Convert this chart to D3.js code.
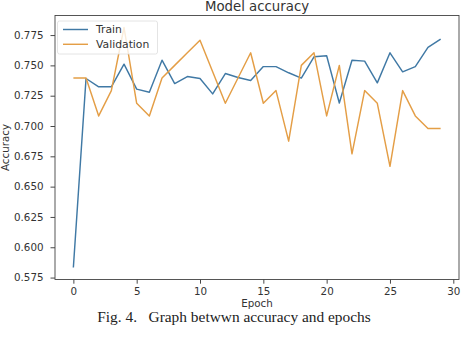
<!DOCTYPE html>
<html><head><meta charset="utf-8">
<script src="https://cdn.jsdelivr.net/npm/d3@7"></script>
<style>body{margin:0;background:#fff;} svg{display:block;}</style>
</head><body>
<script>
const epochs = d3.range(0, 30);
const trainAcc = [0.5833,0.7392,0.7323,0.7323,0.7510,0.7304,0.7279,0.7543,0.7350,0.7408,
                  0.7392,0.7265,0.7433,0.7400,0.7376,0.7490,0.7490,0.7439,0.7395,0.7571,
                  0.7579,0.7190,0.7543,0.7535,0.7356,0.7604,0.7447,0.7490,0.7648,0.7717];
const valAcc = [0.7396,0.7396,0.7083,0.7292,0.78125,0.71875,0.7083,0.7396,0.7500,0.7604,
                0.7708,0.7448,0.71875,0.7396,0.7604,0.71875,0.7292,0.6875,0.7500,0.7604,
                0.7083,0.7500,0.6771,0.7292,0.71875,0.6667,0.7292,0.7083,0.6979,0.6979];
const xTicks = [0,5,10,15,20,25,30];
const yTicks = [0.575,0.600,0.625,0.650,0.675,0.700,0.725,0.750,0.775];
const seriesNames = ["Train","Validation"];
const colors = ["#4079a5","#e49e46"];
const title = "Model accuracy";
const xLabel = "Epoch", yLabel = "Accuracy";
const caption = "Fig. 4.   Graph betwwn accuracy and epochs";

const W = 474, H = 360;
const L = 55, R = 459, T = 15.5, B = 279.5;
const svg = d3.select("body").append("svg").attr("width", W).attr("height", H);
const font = "DejaVu Sans, sans-serif";
const txt = "#333";
const fs = "10.3px";

const allVals = trainAcc.concat(valAcc);
const ymin = d3.min(allVals), ymax = d3.max(allVals), ypad = (ymax - ymin) * 0.05;
const x = d3.scaleLinear().domain([-1.45, 30.45]).range([L, R]);
const y = d3.scaleLinear().domain([ymin - ypad, ymax + ypad]).range([B, T]);

const xAxis = svg.append("g").attr("transform", `translate(0,${B})`)
  .call(d3.axisBottom(x).tickValues(xTicks).tickFormat(d3.format("d")).tickSize(4.2).tickPadding(3.5));
const yAxis = svg.append("g").attr("transform", `translate(${L},0)`)
  .call(d3.axisLeft(y).tickValues(yTicks).tickFormat(d3.format(".3f")).tickSize(4.5).tickPadding(7));
[xAxis, yAxis].forEach(g => {
  g.select(".domain").remove();
  g.selectAll("line").attr("stroke", txt).attr("stroke-width", 0.9);
  g.selectAll("text").attr("fill", txt).style("font-family", font).style("font-size", fs);
});

// spines
svg.append("rect").attr("x", L).attr("y", T).attr("width", R - L).attr("height", B - T)
  .attr("fill", "none").attr("stroke", "#444").attr("stroke-width", 0.9);

const line = d3.line().x((d, i) => x(epochs[i])).y(d => y(d));
[trainAcc, valAcc].forEach((s, k) => {
  svg.append("path").datum(s).attr("d", line).attr("fill", "none")
    .attr("stroke", colors[k]).attr("stroke-width", 1.45).attr("stroke-linejoin", "round");
});

// legend
const lg = svg.append("g");
lg.append("rect").attr("x", 57.5).attr("y", 21).attr("width", 100).attr("height", 33).attr("rx", 2)
  .attr("fill", "rgba(255,255,255,0.8)").attr("stroke", "#ddd").attr("stroke-width", 0.8);
seriesNames.forEach((n, k) => {
  const yy = 29.5 + k * 14.8;
  lg.append("line").attr("x1", 63).attr("x2", 88).attr("y1", yy).attr("y2", yy)
    .attr("stroke", colors[k]).attr("stroke-width", 1.45);
  lg.append("text").attr("x", 96).attr("y", yy + 3.9).text(n)
    .attr("fill", txt).style("font-family", font).style("font-size", "10.8px");
});

svg.append("text").attr("x", (L + R) / 2).attr("y", 11.2).attr("text-anchor", "middle")
  .text(title).attr("fill", txt).style("font-family", font).style("font-size", "13.3px");
svg.append("text").attr("x", (L + R) / 2).attr("y", 306.5).attr("text-anchor", "middle")
  .text(xLabel).attr("fill", txt).style("font-family", font).style("font-size", fs);
svg.append("text").attr("transform", `translate(8.8,${(T + B) / 2}) rotate(-90)`).attr("text-anchor", "middle")
  .text(yLabel).attr("fill", txt).style("font-family", font).style("font-size", fs);

svg.append("text").attr("x", 234).attr("y", 322).attr("text-anchor", "middle")
  .attr("xml:space", "preserve").style("white-space", "pre")
  .text(caption).attr("fill", "#222").style("font-family", "Liberation Serif, Times New Roman, serif").style("font-size", "15.4px");
</script>
</body></html>
